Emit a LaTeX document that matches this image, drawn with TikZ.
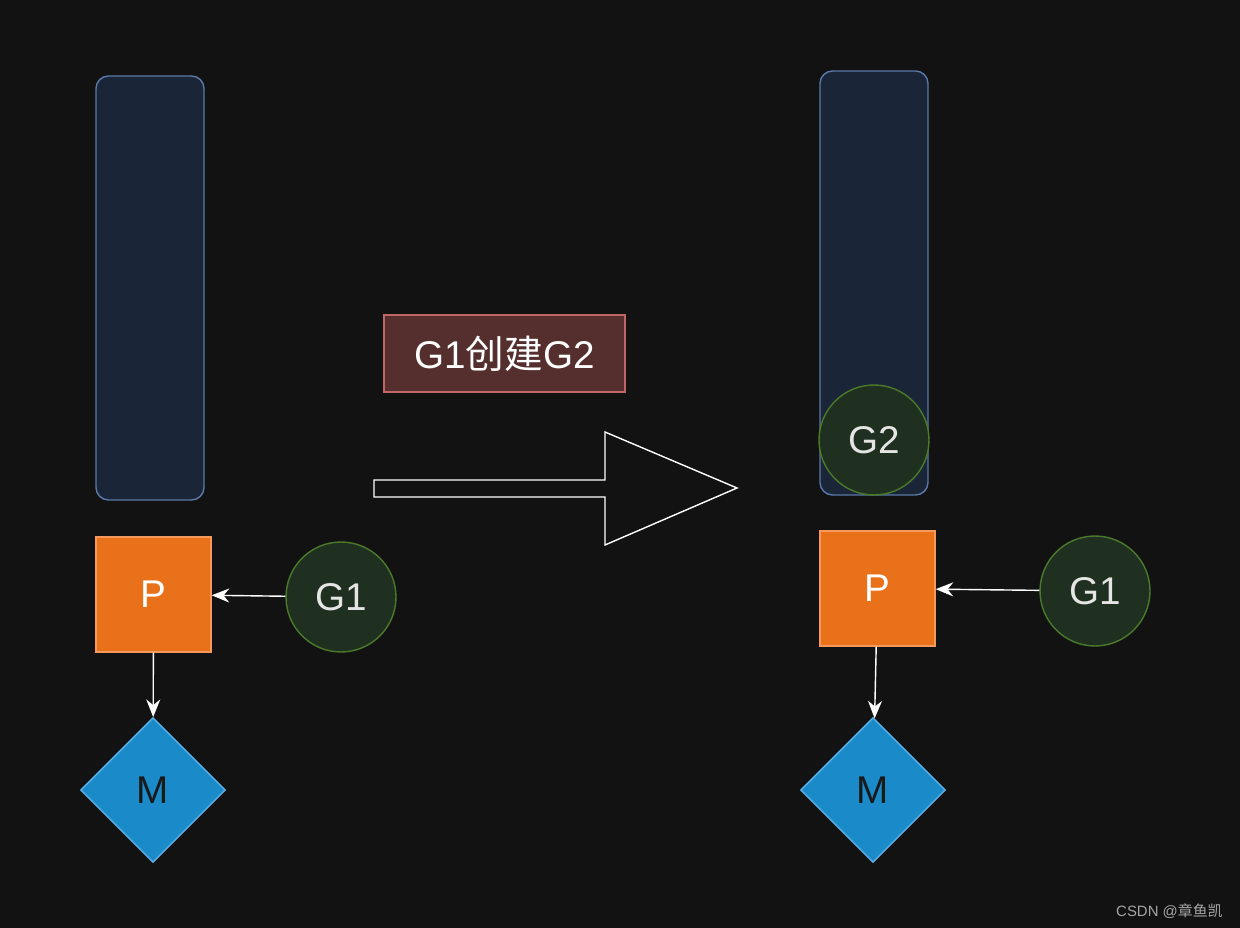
\documentclass[tikz,border=0pt]{standalone}
\usepackage{fontspec}
\setmainfont{Liberation Sans}
\newfontfamily\cjk{Noto Sans CJK SC}
\usetikzlibrary{shapes.geometric,arrows.meta}
\definecolor{bg}{HTML}{121212}
\definecolor{qfill}{HTML}{1B2538}
\definecolor{qline}{HTML}{5A78A8}
\definecolor{pfill}{HTML}{E8711A}
\definecolor{pline}{HTML}{F59A5C}
\definecolor{gfill}{HTML}{203020}
\definecolor{gline}{HTML}{4A7A2A}
\definecolor{mfill}{HTML}{1A8BC8}
\definecolor{mline}{HTML}{5AB0E8}
\definecolor{lfill}{HTML}{552E2E}
\definecolor{lline}{HTML}{C06666}
\begin{document}
\begin{tikzpicture}[x=0.02cm, y=-0.02cm]

    \tikzstyle{queue}=[draw=qline, fill=qfill, rounded corners=0.25cm, thick];
    \tikzstyle{proc}=[rectangle, draw=pline, fill=pfill, thick, minimum size=2.3cm, text=white, font=\fontsize{22}{26}\selectfont];
    \tikzstyle{gor}=[circle, draw=gline, fill=gfill, thick, minimum size=2.2cm, text=white!90!black, font=\fontsize{22}{26}\selectfont];
    \tikzstyle{mach}=[diamond, draw=mline, fill=mfill, thick, minimum size=2.9cm, inner sep=0pt, text=black!90, font=\fontsize{22}{26}\selectfont];
    \tikzstyle{link}=[->, >={Stealth[length=10pt,width=8pt]}, white, thick];

    \fill[bg] (0,0) rectangle (1240,928);

    % left side
    \draw[queue] (96,76) rectangle (204,500);
    \node[proc] (p1) at (153.5,594.5) {P};
    \node[gor] (g1a) at (341,597) {G1};
    \node[mach] (m1) at (153,790) {M};

    \draw[link] (g1a) -- (p1);
    \draw[link] (p1) -- (m1);

    % label and transition arrow
    \node[rectangle, draw=lline, fill=lfill, thick, minimum width=4.82cm, minimum height=1.54cm, text=white, font=\fontsize{22}{26}\selectfont] (lbl) at (504.5,353.5) {G1{\cjk 创建}G2};
    \draw[white, thick] (374,480) -- (605,480) -- (605,432) -- (737,488) -- (605,545) -- (605,497) -- (374,497) -- cycle;

    % right side
    \draw[queue] (820,71) rectangle (928,495);
    \node[gor] (g2) at (874,440) {G2};
    \node[proc] (p2) at (877.5,588.5) {P};
    \node[gor] (g1b) at (1095,591) {G1};
    \node[mach] (m2) at (873,790) {M};

    \draw[link] (g1b) -- (p2);
    \draw[link] (p2) -- (m2);

    \node[text=gray!70, font=\fontsize{8.5}{10}\selectfont, anchor=east, inner sep=0pt] (wm) at (1223,911) {CSDN @{\cjk 章鱼凯}};
\end{tikzpicture}
\end{document}
